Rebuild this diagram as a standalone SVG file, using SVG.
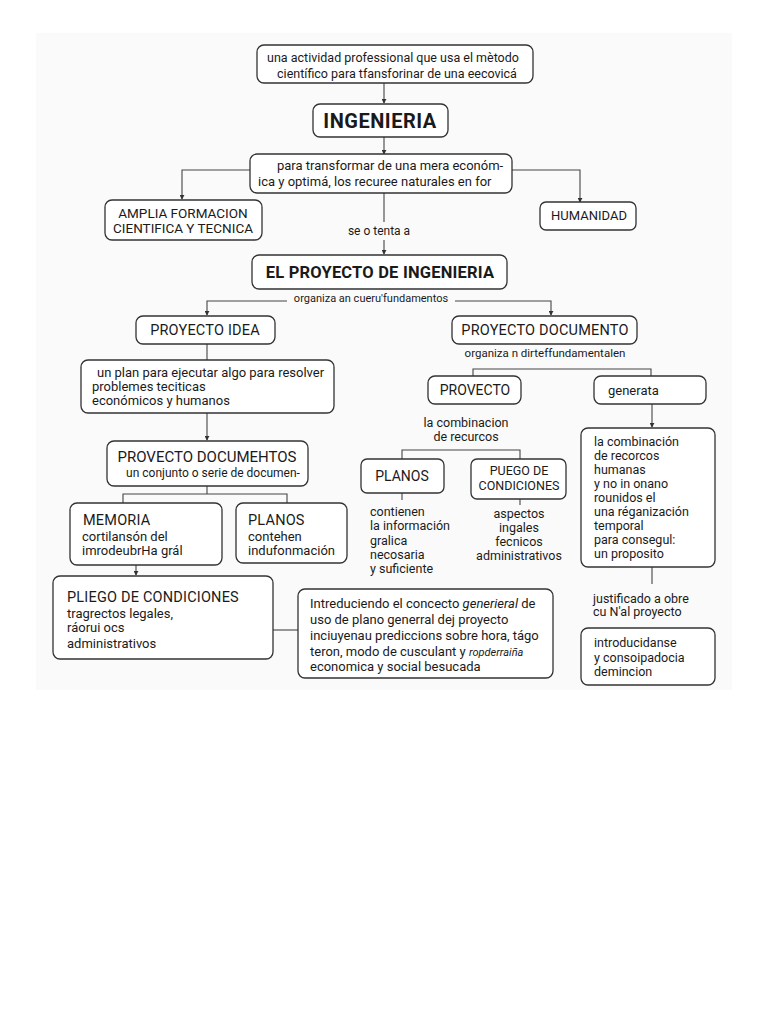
<svg xmlns="http://www.w3.org/2000/svg" width="768" height="1024" viewBox="0 0 768 1024">
<defs>
<marker id="ah" viewBox="0 0 6 6" refX="5" refY="3" markerWidth="5" markerHeight="5" orient="auto" markerUnits="userSpaceOnUse">
<path d="M0,0 L6,3 L0,6 z" fill="#333"/>
</marker>
<style>
.box{fill:#fff;stroke:#333;stroke-width:1.3}
.ln{fill:none;stroke:#444;stroke-width:1.1}
.arr{fill:none;stroke:#444;stroke-width:1.1;marker-end:url(#ah)}
text{font-family:Roboto,"Liberation Sans",sans-serif;fill:#1a1a1a}
.t{font-size:13px}
.s{font-size:12px}
.m{font-size:12.5px}
.c{text-anchor:middle}
.h{font-size:14.5px;letter-spacing:0.2px}
.b{font-weight:bold}
</style>
</defs>
<rect x="36" y="33" width="696" height="657" fill="#fafafa"/>

<g id="connectors">
<line class="arr" x1="384" y1="83" x2="384" y2="103"/>
<line class="arr" x1="384" y1="137" x2="384" y2="154"/>
<polyline class="arr" points="250,170 182,170 182,199"/>
<polyline class="arr" points="512,170 580,170 580,202"/>
<line class="ln" x1="384" y1="193" x2="384" y2="222"/>
<line class="arr" x1="384" y1="240" x2="384" y2="254"/>
<polyline class="arr" points="287,301 207,301 207,315"/>
<polyline class="arr" points="455,301 551,301 551,315"/>
<line class="ln" x1="207" y1="344" x2="207" y2="360"/>
<line class="arr" x1="207" y1="413" x2="207" y2="440"/>
<line class="ln" x1="207" y1="486" x2="207" y2="494"/>
<polyline class="ln" points="123,503 123,494 287,494 287,503"/>
<line class="arr" x1="136" y1="565" x2="136" y2="575"/>
<line class="ln" x1="273" y1="630" x2="298" y2="630"/>
<polyline class="ln" points="473,376 473,369 651,369 651,376"/>
<polyline class="ln" points="402,459 402,450 520,450 520,459"/>
<line class="ln" x1="402" y1="493" x2="402" y2="500"/>
<line class="ln" x1="520" y1="499" x2="520" y2="505"/>
<line class="arr" x1="652" y1="404" x2="652" y2="427"/>
<line class="ln" x1="652" y1="567" x2="652" y2="584"/>
</g>

<g id="n-def">
<rect class="box" x="257" y="45" width="276" height="38" rx="7"/>
<text class="m c" x="393" y="62">una actividad professional que usa el mètodo</text>
<text class="m c" x="397" y="78">científico para tfansforinar de una eecovicá</text>
</g>

<g id="n-ingenieria">
<rect class="box" x="313" y="104" width="135" height="33" rx="7"/>
<text class="c b" x="380" y="128" font-size="20" letter-spacing="0.5">INGENIERIA</text>
</g>

<g id="n-para">
<rect class="box" x="250" y="154" width="262" height="39" rx="7"/>
<text class="t" x="277" y="170">para transformar de una mera económ-</text>
<text class="t" x="258" y="186">ica y optimá, los recuree naturales en for</text>
</g>

<g id="n-amplia">
<rect class="box" x="105" y="200" width="157" height="40" rx="7"/>
<text class="c" x="183" y="218" font-size="13.5">AMPLIA FORMACION</text>
<text class="c" x="183" y="233" font-size="13.5">CIENTIFICA Y TECNICA</text>
</g>

<g id="n-humanidad">
<rect class="box" x="540" y="202" width="96" height="28" rx="6"/>
<text class="t c" x="589" y="220">HUMANIDAD</text>
</g>

<text class="s c" x="379" y="235">se o tenta a</text>

<g id="n-proyecto">
<rect class="box" x="252" y="255" width="255" height="34" rx="7"/>
<text class="c b" x="380" y="278" font-size="16.5" letter-spacing="0.2">EL PROYECTO DE INGENIERIA</text>
</g>

<text class="c" x="371" y="302" font-size="11">organiza an cueru'fundamentos</text>

<g id="n-idea">
<rect class="box" x="136" y="316" width="139" height="28" rx="7"/>
<text class="h c" x="205" y="335">PROYECTO IDEA</text>
</g>

<g id="n-documento">
<rect class="box" x="452" y="316" width="185" height="28" rx="7"/>
<text class="h c" x="545" y="335">PROYECTO DOCUMENTO</text>
</g>

<text class="c" x="545" y="357" font-size="11.5">organiza n dirteffundamentalen</text>

<g id="n-plan">
<rect class="box" x="81" y="360" width="253" height="53" rx="7"/>
<text class="t" x="97" y="377">un plan para ejecutar algo para resolver</text>
<text class="t" x="92" y="391">problemes teciticas</text>
<text class="t" x="92" y="405">económicos y humanos</text>
</g>

<g id="n-documehtos">
<rect class="box" x="107" y="441" width="201" height="45" rx="7"/>
<text class="c" x="207" y="462" font-size="15">PROVECTO DOCUMEHTOS</text>
<text class="s c" x="213" y="477">un conjunto o serie de documen-</text>
</g>

<g id="n-memoria">
<rect class="box" x="70" y="503" width="152" height="62" rx="7"/>
<text class="h" x="83" y="525">MEMORIA</text>
<text class="t" x="82" y="541">cortilansón del</text>
<text class="t" x="82" y="555">imrodeubrHa grál</text>
</g>

<g id="n-planos1">
<rect class="box" x="236" y="503" width="111" height="60" rx="7"/>
<text class="h" x="248" y="525">PLANOS</text>
<text class="t" x="248" y="541">contehen</text>
<text class="t" x="248" y="555">indufonmación</text>
</g>

<g id="n-pliego">
<rect class="box" x="53" y="576" width="220" height="83" rx="7"/>
<text class="h" x="67" y="602">PLIEGO DE CONDICIONES</text>
<text class="t" x="67" y="618">tragrectos legales,</text>
<text class="t" x="67" y="632">ráorui ocs</text>
<text class="t" x="67" y="648">administrativos</text>
</g>

<g id="n-intreduciendo">
<rect class="box" x="298" y="589" width="255" height="89" rx="7"/>
<text class="t" x="310" y="608">Intreduciendo el concecto <tspan font-style="italic">generieral</tspan> de</text>
<text class="t" x="310" y="624">uso de plano generral dej proyecto</text>
<text class="t" x="310" y="640">inciuyenau prediccions sobre hora, tágo</text>
<text class="t" x="310" y="656">teron, modo de cusculant y <tspan font-style="italic" font-size="11">ropderraiña</tspan></text>
<text class="t" x="310" y="671">economica y social besucada</text>
</g>

<g id="n-provecto">
<rect class="box" x="428" y="376" width="93" height="28" rx="7"/>
<text class="c" x="475" y="395" font-size="14">PROVECTO</text>
</g>

<g id="n-generata">
<rect class="box" x="594" y="376" width="112" height="28" rx="7"/>
<text class="t" x="608" y="395">generata</text>
</g>

<text class="m c" x="466" y="427">la combinacion</text>
<text class="m c" x="466" y="441">de recurcos</text>

<g id="n-planos2">
<rect class="box" x="361" y="459" width="83" height="34" rx="6"/>
<text class="c" x="402" y="481" font-size="14">PLANOS</text>
</g>

<g id="n-puego">
<rect class="box" x="471" y="459" width="95" height="40" rx="6"/>
<text class="m c" x="519" y="475">PUEGO DE</text>
<text class="m c" x="519" y="490">CONDICIONES</text>
</g>

<g id="t-contienen">
<text class="m" x="370" y="516">contienen</text>
<text class="m" x="370" y="530">la información</text>
<text class="m" x="370" y="545">gralica</text>
<text class="m" x="370" y="559">necosaria</text>
<text class="m" x="370" y="573">y suficiente</text>
</g>

<g id="t-aspectos">
<text class="m c" x="519" y="518">aspectos</text>
<text class="m c" x="519" y="532">ingales</text>
<text class="m c" x="519" y="546">fecnicos</text>
<text class="m c" x="519" y="560">administrativos</text>
</g>

<g id="n-combinacion">
<rect class="box" x="581" y="428" width="134" height="139" rx="7"/>
<text class="m" x="594" y="446">la combinación</text>
<text class="m" x="594" y="460">de recorcos</text>
<text class="m" x="594" y="474">humanas</text>
<text class="m" x="594" y="488">y no in onano</text>
<text class="m" x="594" y="502">rounidos el</text>
<text class="m" x="594" y="516">una réganización</text>
<text class="m" x="594" y="530">temporal</text>
<text class="m" x="594" y="544">para consegul:</text>
<text class="m" x="594" y="558">un proposito</text>
</g>

<text class="m" x="593" y="603">justificado a obre</text>
<text class="m" x="593" y="616">cu N'al proyecto</text>

<g id="n-introducidanse">
<rect class="box" x="581" y="628" width="134" height="57" rx="7"/>
<text class="m" x="594" y="647">introducidanse</text>
<text class="m" x="594" y="662">y consoipadocia</text>
<text class="m" x="594" y="676">demincion</text>
</g>
</svg>
